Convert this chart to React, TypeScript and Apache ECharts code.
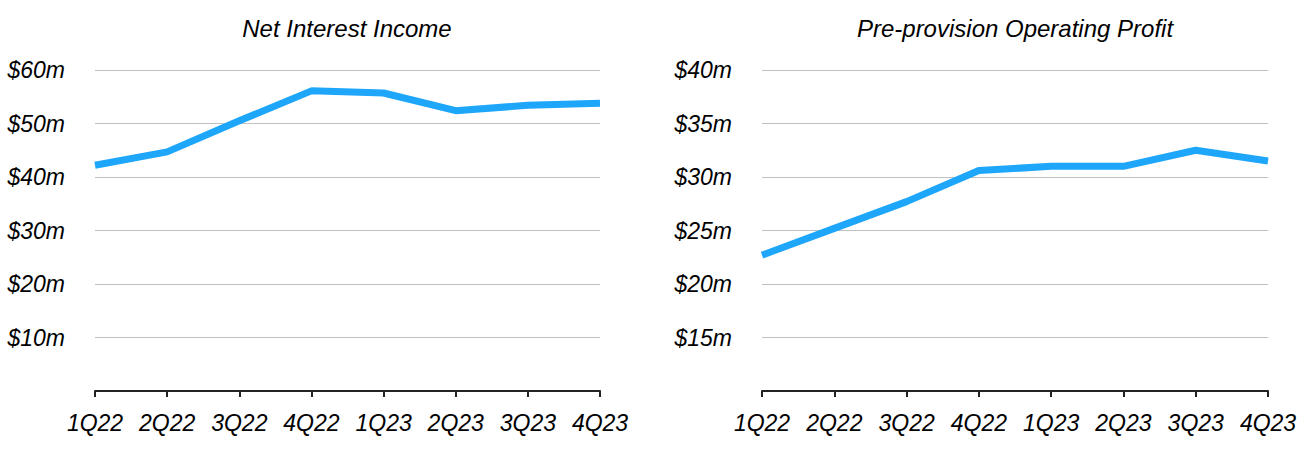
import React, { useEffect, useRef } from "react";
import * as echarts from "echarts";

const quarters = ["1Q22", "2Q22", "3Q22", "4Q22", "1Q23", "2Q23", "3Q23", "4Q23"];
const netInterestIncome = [42.2, 44.7, 50.5, 56.1, 55.7, 52.4, 53.4, 53.8];
const preProvisionProfit = [22.7, 25.2, 27.7, 30.6, 31.0, 31.0, 32.5, 31.5];
const titles = ["Net Interest Income", "Pre-provision Operating Profit"];

const FONT = "'Liberation Sans', Arial, Helvetica, sans-serif";
const LINE_COLOR = "#1EA6FB";

export default function App() {
  const ref = useRef<HTMLDivElement>(null);
  useEffect(() => {
    document.body.style.margin = "0";
    if (!ref.current) return;
    const chart = echarts.init(ref.current, null, { renderer: "svg" });
    const xAxisBase = (gridIndex: number) => ({
      type: "category" as const,
      gridIndex,
      data: quarters,
      boundaryGap: false,
      axisLine: { show: true, lineStyle: { color: "#222", width: 2 } },
      axisTick: { show: true, length: 6, lineStyle: { color: "#222", width: 2 } },
      axisLabel: {
        color: "#000",
        fontSize: 23,
        fontStyle: "italic",
        fontFamily: FONT,
        margin: 20,
        interval: 0,
      },
      splitLine: { show: false },
    });
    const yAxisBase = (gridIndex: number, min: number, max: number, interval: number) => ({
      type: "value" as const,
      gridIndex,
      min,
      max,
      interval,
      axisLine: { show: false },
      axisTick: { show: false },
      axisLabel: {
        color: "#000",
        fontSize: 23,
        fontStyle: "italic",
        fontFamily: FONT,
        margin: 30,
        formatter: (v: number) => (v === min ? "" : `$${v}m`),
      },
      splitLine: { show: true, lineStyle: { color: "#c0c0c0", width: 1 } },
    });
    const seriesBase = (i: number, data: number[]) => ({
      type: "line" as const,
      xAxisIndex: i,
      yAxisIndex: i,
      data,
      showSymbol: false,
      symbol: "none",
      lineStyle: { color: LINE_COLOR, width: 7 },
      z: 3,
    });
    const titleText = (x: number, text: string) => ({
      type: "text",
      x,
      y: 28,
      style: {
        text,
        fontSize: 24,
        fontStyle: "italic",
        fontFamily: FONT,
        fill: "#000",
        textAlign: "center",
        textVerticalAlign: "middle",
      },
    });
    chart.setOption({
      animation: false,
      grid: [
        { left: 95, right: 700, top: 70, bottom: 69 },
        { left: 762, right: 32, top: 70, bottom: 69 },
      ],
      xAxis: [xAxisBase(0), xAxisBase(1)],
      yAxis: [yAxisBase(0, 0, 60, 10), yAxisBase(1, 10, 40, 5)],
      series: [seriesBase(0, netInterestIncome), seriesBase(1, preProvisionProfit)],
      graphic: [titleText(347, titles[0]), titleText(1015, titles[1])],
    });
    return () => chart.dispose();
  }, []);
  return <div ref={ref} style={{ width: 1300, height: 460 }} />;
}
